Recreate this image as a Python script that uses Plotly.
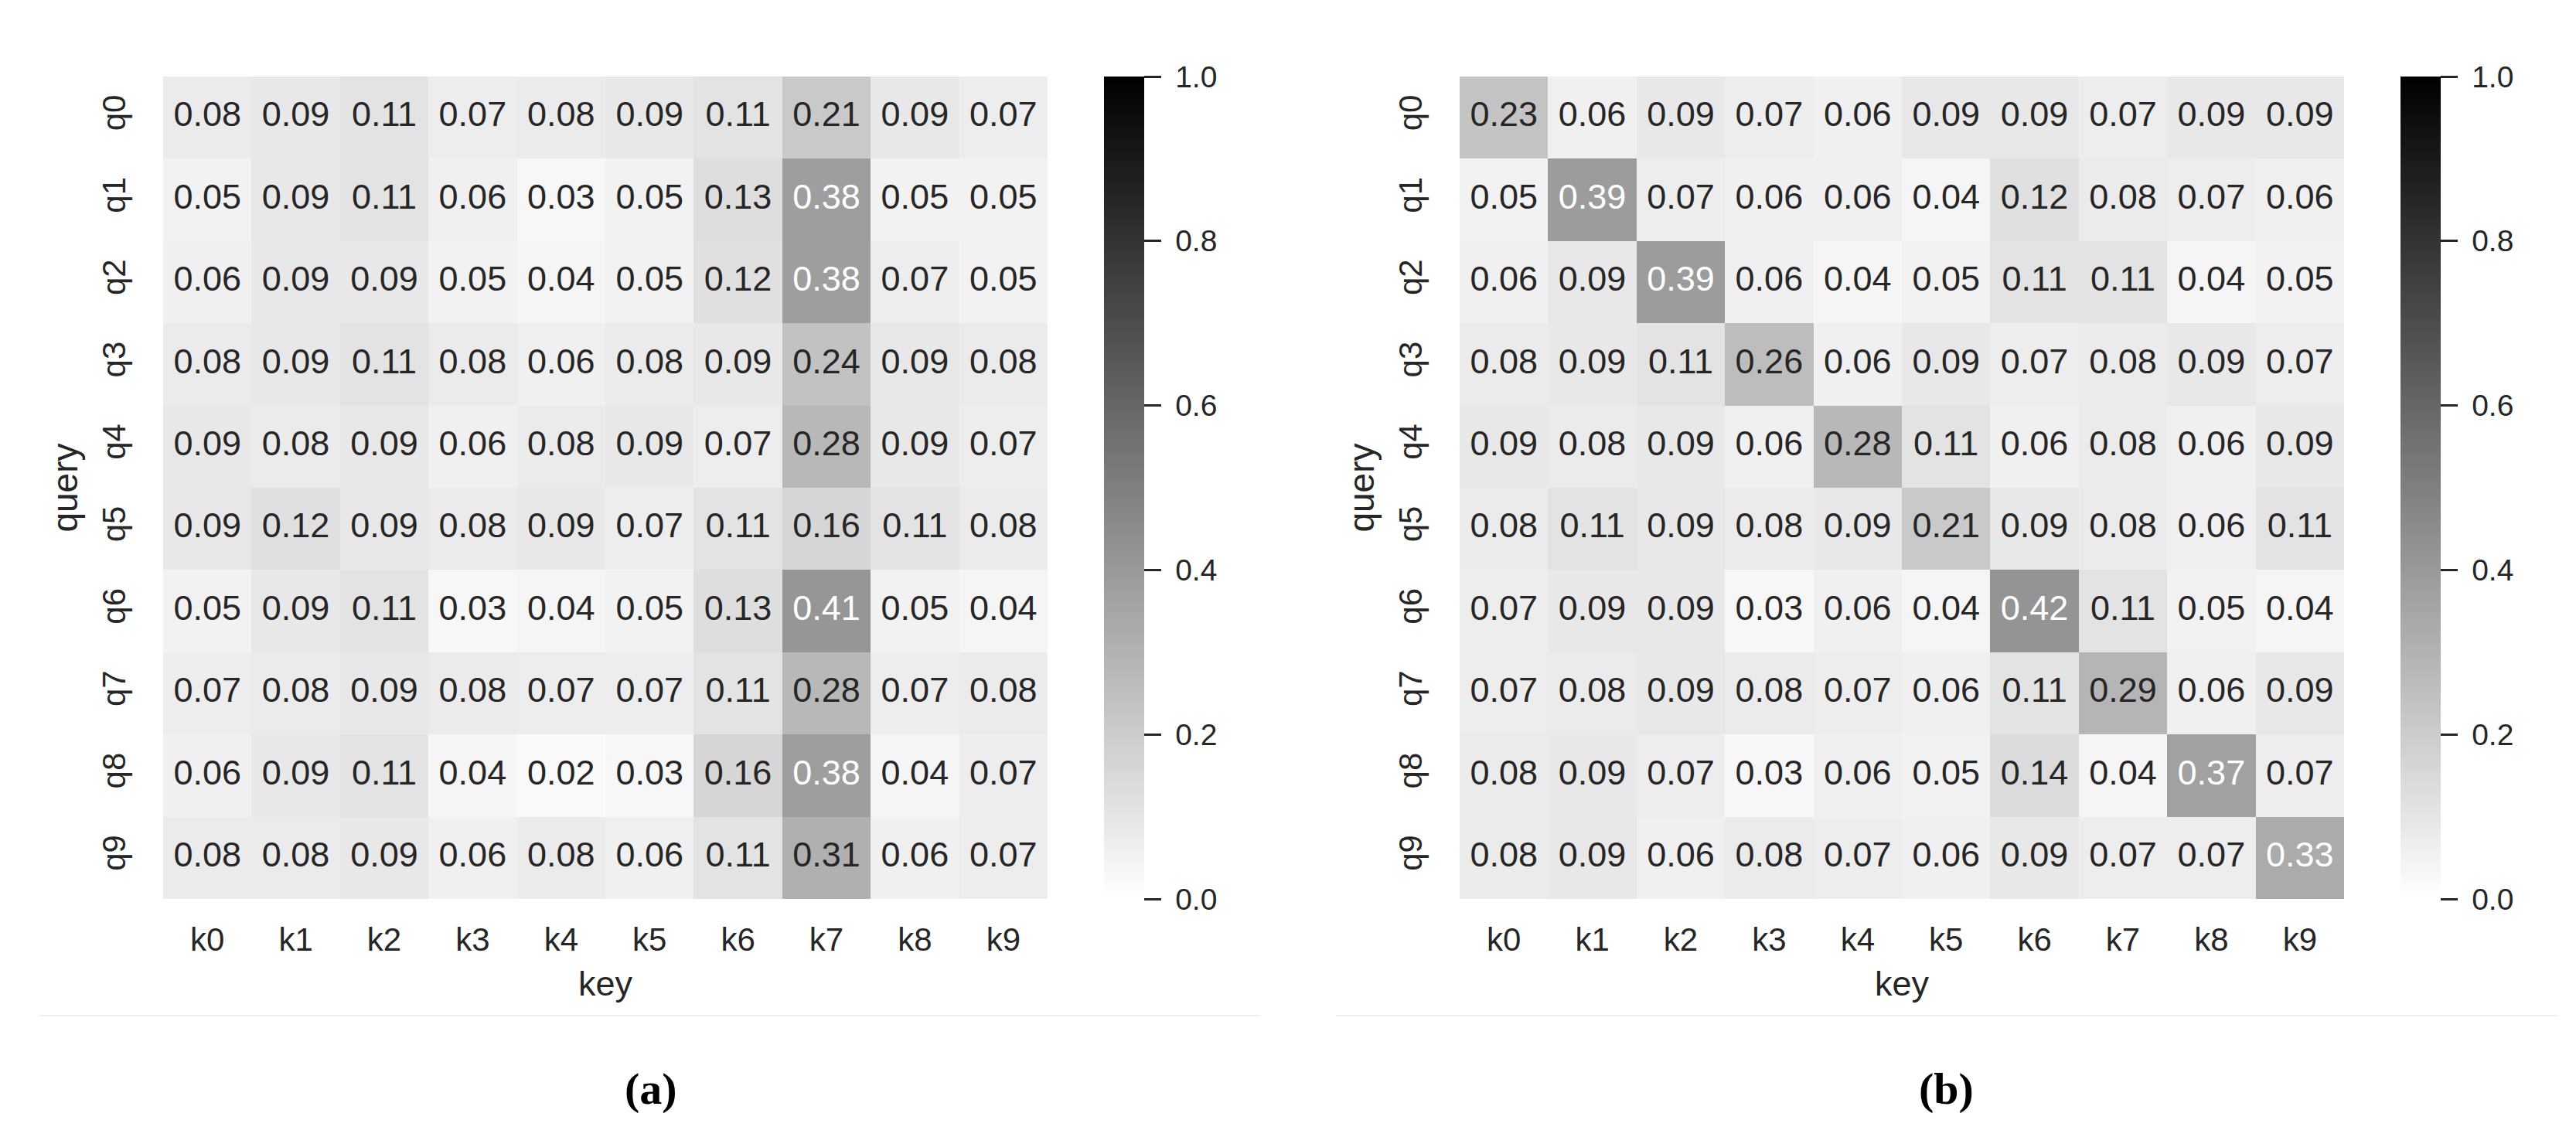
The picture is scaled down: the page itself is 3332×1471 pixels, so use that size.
import numpy as np
import plotly.graph_objects as go

keys = ["k0", "k1", "k2", "k3", "k4", "k5", "k6", "k7", "k8", "k9"]
queries = ["q0", "q1", "q2", "q3", "q4", "q5", "q6", "q7", "q8", "q9"]

# (a) attention weights, rows = query, cols = key
attn_a = [
    [0.08, 0.09, 0.11, 0.07, 0.08, 0.09, 0.11, 0.21, 0.09, 0.07],
    [0.05, 0.09, 0.11, 0.06, 0.03, 0.05, 0.13, 0.38, 0.05, 0.05],
    [0.06, 0.09, 0.09, 0.05, 0.04, 0.05, 0.12, 0.38, 0.07, 0.05],
    [0.08, 0.09, 0.11, 0.08, 0.06, 0.08, 0.09, 0.24, 0.09, 0.08],
    [0.09, 0.08, 0.09, 0.06, 0.08, 0.09, 0.07, 0.28, 0.09, 0.07],
    [0.09, 0.12, 0.09, 0.08, 0.09, 0.07, 0.11, 0.16, 0.11, 0.08],
    [0.05, 0.09, 0.11, 0.03, 0.04, 0.05, 0.13, 0.41, 0.05, 0.04],
    [0.07, 0.08, 0.09, 0.08, 0.07, 0.07, 0.11, 0.28, 0.07, 0.08],
    [0.06, 0.09, 0.11, 0.04, 0.02, 0.03, 0.16, 0.38, 0.04, 0.07],
    [0.08, 0.08, 0.09, 0.06, 0.08, 0.06, 0.11, 0.31, 0.06, 0.07],
]

# (b)
attn_b = [
    [0.23, 0.06, 0.09, 0.07, 0.06, 0.09, 0.09, 0.07, 0.09, 0.09],
    [0.05, 0.39, 0.07, 0.06, 0.06, 0.04, 0.12, 0.08, 0.07, 0.06],
    [0.06, 0.09, 0.39, 0.06, 0.04, 0.05, 0.11, 0.11, 0.04, 0.05],
    [0.08, 0.09, 0.11, 0.26, 0.06, 0.09, 0.07, 0.08, 0.09, 0.07],
    [0.09, 0.08, 0.09, 0.06, 0.28, 0.11, 0.06, 0.08, 0.06, 0.09],
    [0.08, 0.11, 0.09, 0.08, 0.09, 0.21, 0.09, 0.08, 0.06, 0.11],
    [0.07, 0.09, 0.09, 0.03, 0.06, 0.04, 0.42, 0.11, 0.05, 0.04],
    [0.07, 0.08, 0.09, 0.08, 0.07, 0.06, 0.11, 0.29, 0.06, 0.09],
    [0.08, 0.09, 0.07, 0.03, 0.06, 0.05, 0.14, 0.04, 0.37, 0.07],
    [0.08, 0.09, 0.06, 0.08, 0.07, 0.06, 0.09, 0.07, 0.07, 0.33],
]

cbar_ticks = [0.0, 0.2, 0.4, 0.6, 0.8, 1.0]
panel_labels = ["(a)", "(b)"]

W, H = 3332, 1471
FONT = "Liberation Sans, Arial, sans-serif"
DARK = "#262626"
greys = [[0, "rgb(255,255,255)"], [1, "rgb(0,0,0)"]]


def text_colour(v):
    # same rule seaborn uses: white text on dark cells
    g = 1.0 - v
    lum = ((g + 0.055) / 1.055) ** 2.4
    return "white" if lum < 0.408 else DARK


fig = go.Figure()

x_doms = [(203 / W, 1347 / W), (1880 / W, 3024 / W)]
y_dom = (1 - 1155 / H, 1 - 91 / H)
cb_x = [1420 / W, 3097 / W]

for i, z in enumerate([attn_a, attn_b]):
    xa = "x" if i == 0 else "x2"
    ya = "y" if i == 0 else "y2"
    fig.add_trace(go.Heatmap(
        z=z, x=keys, y=queries, xaxis=xa, yaxis=ya,
        zmin=0, zmax=1, colorscale=greys,
        colorbar=dict(
            x=cb_x[i], xanchor="left", y=y_dom[0], yanchor="bottom",
            len=y_dom[1] - y_dom[0], lenmode="fraction",
            thickness=52, xpad=0, ypad=0, outlinewidth=0,
            tickvals=cbar_ticks,
            ticktext=["\u00a0" + f"{t:.1f}" for t in cbar_ticks],
            ticks="outside", ticklen=22, tickwidth=3, tickcolor=DARK,
            tickfont=dict(family=FONT, size=39, color=DARK),
        ),
        hoverongaps=False,
    ))
    zz = np.array(z)
    xx, yy = np.meshgrid(keys, queries)
    fig.add_trace(go.Scatter(
        x=xx.ravel(), y=yy.ravel(), xaxis=xa, yaxis=ya,
        mode="text",
        text=[f"{v:.2f}" for v in zz.ravel()],
        textfont=dict(family=FONT, size=45,
                      color=[text_colour(v) for v in zz.ravel()]),
        hoverinfo="skip", showlegend=False,
    ))

axis_x = dict(
    showgrid=False, zeroline=False, showline=False,
    ticks="", ticklabelstandoff=24,
    tickfont=dict(family=FONT, size=42, color=DARK),
    title=dict(text="key", font=dict(family=FONT, size=45, color=DARK), standoff=18),
)
axis_y = dict(
    showgrid=False, zeroline=False, showline=False,
    ticks="", ticklabelstandoff=40, tickangle=-90,
    autorange="reversed",
    tickfont=dict(family=FONT, size=42, color=DARK),
    title=dict(text="query", font=dict(family=FONT, size=46, color=DARK), standoff=8),
    domain=list(y_dom),
)

fig.update_layout(
    width=W, height=H,
    margin=dict(l=0, r=0, t=0, b=0),
    plot_bgcolor="white", paper_bgcolor="white",
    showlegend=False,
    xaxis={**axis_x, "domain": list(x_doms[0]), "anchor": "y"},
    yaxis={**axis_y, "anchor": "x"},
    xaxis2={**axis_x, "domain": list(x_doms[1]), "anchor": "y2"},
    yaxis2={**axis_y, "anchor": "x2"},
)

# faint separators under each panel and the (a)/(b) captions
for x0, x1, lab, xc in [(43, 1622, panel_labels[0], 834), (1720, 3299, panel_labels[1], 2509)]:
    fig.add_shape(type="line", xref="paper", yref="paper",
                  x0=x0 / W, x1=x1 / W, y0=1 - 1306 / H, y1=1 - 1306 / H,
                  line=dict(color="#efefef", width=2))
    fig.add_annotation(
        x=xc / W, y=1 - 1400 / H, xref="paper", yref="paper",
        text=f"<b>{lab}</b>", showarrow=False,
        font=dict(family="Liberation Serif, Times New Roman, serif", size=58, color="black"),
        xanchor="center", yanchor="middle",
    )

fig.write_html("out.html")
